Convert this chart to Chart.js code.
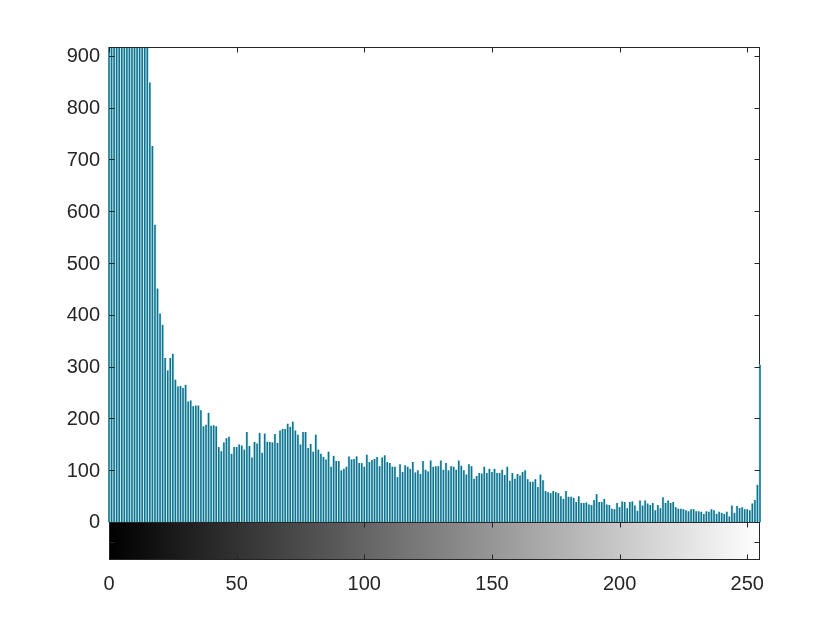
<!DOCTYPE html>
<html>
<head>
<meta charset="utf-8">
<title>Histogram</title>
<script src="https://cdn.jsdelivr.net/npm/chart.js@4/dist/chart.umd.min.js"></script>
<style>
  html, body { margin: 0; background: #fff; }
  canvas { display: block; }
</style>
</head>
<body>
<canvas id="hist" width="840" height="630"></canvas>
<script>
const xTicks = [0, 50, 100, 150, 200, 250];
const yTicks = [0, 100, 200, 300, 400, 500, 600, 700, 800, 900];
const yMax = 917;
const stripBottom = -73.4;
const stripTick = -38;

// bins 0-15 run off the top of the axes, their real height can't be read
const counts = [
  1000, 1000, 1000, 1000, 1000, 1000, 1000, 1000, 1000, 1000, 1000, 1000, 1000, 1000, 1000, 1000,
  848, 725, 573, 450, 402, 380, 316, 292, 316, 324, 274, 261, 262, 258,
  264, 232, 234, 223, 224, 224, 215, 184, 187, 210,
  185, 186, 184, 144, 136, 153, 161, 164, 131, 144,
  144, 149, 147, 139, 173, 146, 124, 154, 151, 171,
  133, 170, 154, 154, 153, 169, 152, 176, 179, 179,
  189, 183, 193, 176, 168, 149, 173, 173, 142, 150,
  135, 168, 139, 131, 125, 120, 135, 106, 127, 117,
  117, 99, 102, 106, 126, 120, 121, 126, 113, 113,
  106, 129, 115, 119, 121, 125, 107, 124, 128, 115,
  113, 106, 106, 86, 111, 96, 109, 106, 102, 115,
  95, 99, 92, 117, 100, 97, 118, 106, 107, 107,
  118, 100, 113, 99, 107, 106, 100, 118, 108, 99,
  91, 111, 107, 83, 88, 94, 93, 106, 94, 102,
  96, 102, 94, 94, 100, 90, 106, 79, 94, 83,
  92, 89, 96, 99, 82, 77, 77, 82, 67, 91,
  80, 59, 57, 55, 59, 57, 55, 49, 44, 59,
  48, 48, 46, 38, 49, 36, 36, 37, 33, 32,
  42, 53, 38, 38, 44, 33, 32, 25, 24, 36,
  28, 39, 38, 26, 38, 39, 31, 21, 41, 31,
  41, 35, 32, 36, 22, 32, 26, 47, 36, 41,
  36, 38, 28, 25, 25, 24, 22, 20, 24, 24,
  20, 20, 19, 15, 20, 19, 24, 22, 15, 19,
  17, 15, 19, 10, 31, 17, 30, 26, 28, 24,
  24, 22, 35, 42, 71, 303
];
const grayLevels = counts.map((c, i) => i);

// grey ramp and box go under the stems, the ticks and top/zero lines over them
const stripPlugin = {
  id: 'strip',
  beforeDatasetsDraw(chart) {
    const { ctx, chartArea: area, scales: { y } } = chart;
    const zero = y.getPixelForValue(0);
    const grad = ctx.createLinearGradient(area.left, 0, area.right, 0);
    grad.addColorStop(0, '#000');
    grad.addColorStop(1, '#fff');
    ctx.save();
    ctx.fillStyle = grad;
    ctx.fillRect(area.left, zero, area.right - area.left, y.getPixelForValue(stripBottom) - zero);
    ctx.strokeStyle = '#262626';
    ctx.lineWidth = 1;
    ctx.strokeRect(area.left + 0.5, area.top + 0.5, area.right - area.left - 1, area.bottom - area.top - 1);
    ctx.restore();
  },
  afterDatasetsDraw(chart) {
    const { ctx, chartArea: area, scales: { x, y } } = chart;
    const zero = y.getPixelForValue(0);
    const tick = 5.5;
    ctx.save();
    ctx.strokeStyle = '#262626';
    ctx.lineWidth = 1;
    ctx.beginPath();
    ctx.moveTo(area.left, area.top + 0.5);
    ctx.lineTo(area.right, area.top + 0.5);
    ctx.moveTo(area.left, zero + 0.5);
    ctx.lineTo(area.right, zero + 0.5);
    xTicks.forEach(v => {
      const px = Math.round(x.getPixelForValue(v)) + 0.5;
      [[area.top, 1], [zero, 1], [area.bottom, -1]].forEach(([py, dir]) => {
        ctx.moveTo(px, py);
        ctx.lineTo(px, py + dir * tick);
      });
    });
    yTicks.concat(stripTick).forEach(v => {
      const py = Math.round(y.getPixelForValue(v)) + 0.5;
      ctx.moveTo(area.left, py);
      ctx.lineTo(area.left + tick, py);
      ctx.moveTo(area.right, py);
      ctx.lineTo(area.right - tick, py);
    });
    ctx.stroke();
    ctx.restore();
  }
};

const tickFont = { family: '"Liberation Sans", Arial, sans-serif', size: 20 };
const barClip = { left: 1, top: 0, right: 1, bottom: 0 };

new Chart(document.getElementById('hist'), {
  type: 'bar',
  data: {
    labels: grayLevels,
    datasets: [{
      data: counts,
      backgroundColor: '#14708c',
      barThickness: 0.9,
      grouped: false,
      clip: barClip
    }, {
      // pale cyan fringe round each stem, as in the scanned reference
      data: counts,
      backgroundColor: '#c4eff5',
      barThickness: 2.3,
      grouped: false,
      clip: barClip
    }]
  },
  options: {
    responsive: false,
    animation: false,
    devicePixelRatio: 1,
    layout: { padding: { left: 0, top: 47, right: 80, bottom: 0 } },
    plugins: { legend: { display: false }, tooltip: { enabled: false } },
    scales: {
      x: {
        type: 'linear',
        min: 0,
        max: 255,
        offset: false,
        grid: { display: false },
        border: { display: false },
        afterBuildTicks: s => { s.ticks = xTicks.map(value => ({ value })); },
        afterFit: s => { s.height = 70; },
        ticks: { color: '#262626', font: tickFont, padding: 4, maxRotation: 0, autoSkip: false }
      },
      y: {
        min: stripBottom,
        max: yMax,
        grid: { display: false },
        border: { display: false },
        afterBuildTicks: s => { s.ticks = yTicks.map(value => ({ value })); },
        afterFit: s => { s.width = 109; },
        ticks: { color: '#262626', font: tickFont, padding: 1, labelOffset: 1, autoSkip: false }
      }
    }
  },
  plugins: [stripPlugin]
});
</script>
</body>
</html>
